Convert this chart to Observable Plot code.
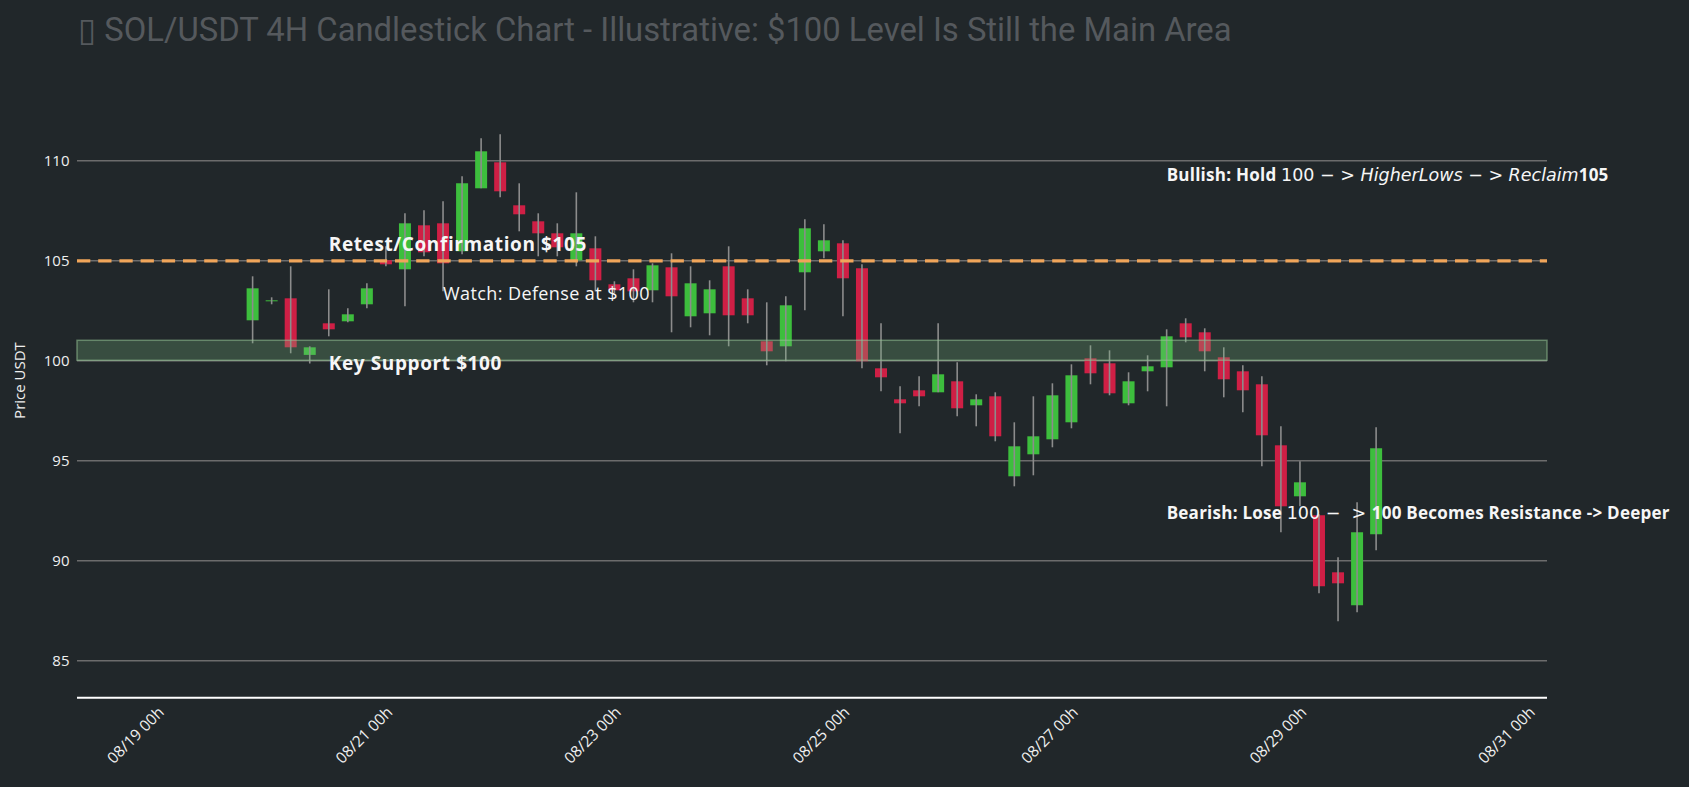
<!DOCTYPE html>
<html>
<head>
<meta charset="utf-8">
<script src="https://cdn.jsdelivr.net/npm/d3@7"></script>
<script src="https://cdn.jsdelivr.net/npm/@observablehq/plot@0.6"></script>
<style>
  html, body { margin: 0; padding: 0; background: #21272a; }
  #wrap { position: relative; width: 1689px; height: 787px; overflow: hidden; background: #21272a; }
  #title { position: absolute; left: 78px; top: 11px; font-family: Roboto, "Noto Sans", sans-serif; font-size: 32.8px; color: #55595d; white-space: nowrap; }
  #title .box { font-family: "DejaVu Sans", sans-serif; }
  #chart { position: absolute; left: 0; top: 0; }
</style>
</head>
<body>
<div id="wrap">
  <div id="chart"></div>
  <div id="title"><span class="box">▯</span> SOL/USDT 4H Candlestick Chart - Illustrative: $100 Level Is Still the Main Area</div>
</div>
<script>
// ---- data (4H candles, first candle 08/19 16:00) ----
const firstCandle = "2025-08-19T16:00:00Z";
const open  = [102.0,102.95,103.1,100.27,101.85,101.95,102.8,105.0,104.55,106.75,106.85,105.45,108.6,109.9,107.75,106.95,106.35,105.0,105.6,103.8,104.1,103.5,104.65,102.2,102.35,104.7,103.1,100.95,100.7,104.4,105.45,105.85,104.6,99.6,98.05,98.5,98.4,98.95,97.75,98.2,94.2,95.3,96.05,96.9,100.1,99.85,97.85,99.45,99.65,101.85,101.4,100.15,99.45,98.8,95.75,93.2,92.25,89.4,87.75,91.3];
const high  = [104.2,103.15,104.7,100.7,103.55,102.6,103.85,105.7,107.35,107.5,107.95,109.2,111.1,111.3,108.85,107.35,106.85,108.4,106.2,103.95,104.55,104.85,105.35,104.7,104.0,105.7,103.55,102.9,103.2,107.05,106.8,106.0,104.8,101.85,98.7,99.2,101.85,99.9,98.3,98.4,96.9,98.2,98.85,99.8,100.75,100.5,99.4,100.25,101.55,102.1,101.6,100.65,99.75,99.2,96.7,94.95,92.3,90.15,92.9,96.65];
const low   = [100.85,102.8,100.35,99.84,101.2,101.9,102.6,104.7,102.7,105.2,103.45,105.3,108.6,108.15,106.45,105.2,105.2,104.7,103.45,103.35,102.9,102.9,101.4,101.65,101.25,100.7,101.85,99.75,99.95,102.5,105.1,102.2,99.6,98.45,96.35,97.7,98.4,97.2,96.7,95.95,93.7,94.25,95.65,96.6,98.8,98.25,97.75,98.45,97.7,100.9,99.45,98.15,97.4,94.7,91.4,92.7,88.35,86.95,87.4,90.5];
const close = [103.6,103.0,100.65,100.65,101.55,102.3,103.6,104.8,106.85,105.4,104.85,108.85,110.45,108.45,107.3,106.35,105.65,106.35,104.0,103.5,103.45,104.75,103.2,103.85,103.55,102.25,102.25,100.45,102.75,106.6,106.0,104.1,99.95,99.15,97.85,98.2,99.3,97.6,98.05,96.2,95.7,96.2,98.25,99.25,99.35,98.35,98.95,99.7,101.2,101.15,100.45,99.05,98.5,96.25,92.7,93.9,88.7,88.85,91.4,95.6];

const yTicks = [85, 90, 95, 100, 105, 110];
const xTicks = ["2025-08-19","2025-08-21","2025-08-23","2025-08-25","2025-08-27","2025-08-29","2025-08-31"];
const xDomain = ["2025-08-18T03:13:00Z", "2025-08-31T00:00:00Z"];
const yDomain = [83.15, 114.88];

const supportLow = 100, supportHigh = 101;
const resistance = 105;

// annotations
const annText = ["Retest/Confirmation $105", "Key Support $100", "Watch: Defense at $100"];
const annTime = ["2025-08-20T08:00:00Z", "2025-08-20T08:00:00Z", "2025-08-21T08:00:00Z"];
const annPrice = [105.8, 99.86, 103.32];
const annBold = [true, true, false];

const scenarioText = ["Bullish: Hold 100 − > HigherLows − > Reclaim105", "Bearish: Lose 100 −  > 100 Becomes Resistance -> Deeper"];
const scenarioTime = ["2025-08-27T16:00:00Z", "2025-08-27T16:00:00Z"];
const scenarioPrice = [109.27, 92.36];
const scenarioParts = [
  [["Bullish: Hold ", "b"], ["100 − > ", "m"], ["HigherLows", "i"], [" − > ", "m"], ["Reclaim", "i"], ["105", "b"]],
  [["Bearish: Lose ", "b"], ["100 −  > ", "m"], ["100 Becomes Resistance -> Deeper", "b"]]
];

// ---- build ----
const times = d3.utcHour.every(4).range(new Date(firstCandle), d3.utcHour.offset(new Date(firstCandle), 4 * open.length));
const candles = open.map((o, i) => ({t: times[i], o, h: high[i], l: low[i], c: close[i]}));
const up = candles.filter(d => d.c >= d.o);
const down = candles.filter(d => d.c < d.o);
const ann = annText.map((s, i) => ({s, t: new Date(annTime[i]), p: annPrice[i], b: annBold[i]}));
const scen = scenarioText.map((s, i) => ({s, t: new Date(scenarioTime[i]), p: scenarioPrice[i]}));
const xd = xDomain.map(s => new Date(s));
const FONT = "'Open Sans', 'Noto Sans', sans-serif";

const chart = Plot.plot({
  width: 1689,
  height: 787,
  marginLeft: 77,
  marginRight: 142,
  marginTop: 62.7,
  marginBottom: 89.7,
  style: {background: "transparent", color: "#efefef", fontFamily: FONT, fontSize: "15px", overflow: "visible"},
  x: {type: "utc", domain: xd},
  y: {domain: yDomain},
  marks: [
    Plot.ruleY(yTicks, {stroke: "#6c6c6c", strokeWidth: 1.5}),
    Plot.axisY(yTicks, {tickSize: 0, tickPadding: 8, fontSize: 15, label: "Price USDT", labelAnchor: "center", labelArrow: "none", labelOffset: 63, fill: "#efefef"}),
    Plot.axisX(xTicks.map(s => new Date(s + "T00:00:00Z")), {tickSize: 0, tickPadding: 10, tickRotate: -45, tickFormat: d3.utcFormat("%m/%d %Hh"), fontSize: 15.5, label: null, dx: -15, dy: 2, fill: "#efefef"}),
    Plot.ruleY([yDomain[0]], {stroke: "#ffffff", strokeWidth: 2}),
    Plot.ruleX(up, {x: "t", y1: "o", y2: "c", stroke: "#3dbe3d", strokeWidth: 12}),
    Plot.ruleX(down, {x: "t", y1: "o", y2: "c", stroke: "#cf1f45", strokeWidth: 12}),
    Plot.ruleX(candles, {x: "t", y1: "l", y2: "h", stroke: "#8c8c8c", strokeWidth: 1.6}),
    Plot.rect([{x1: xd[0], x2: xd[1], y1: supportLow, y2: supportHigh}], {x1: "x1", x2: "x2", y1: "y1", y2: "y2", fill: "#78b47e", fillOpacity: 0.27, stroke: "#93c193", strokeOpacity: 0.55, strokeWidth: 1.5}),
    Plot.ruleY([resistance], {stroke: "#f0a55a", strokeWidth: 3.3, strokeDasharray: "13.3,7.9"}),
    Plot.text(ann.filter(d => d.b), {x: "t", y: "p", text: "s", textAnchor: "start", fill: "#f6f6f6", fontWeight: "bold", fontSize: 19}),
    Plot.text(ann.filter(d => !d.b), {x: "t", y: "p", text: "s", textAnchor: "start", fill: "#f6f6f6", fontWeight: "normal", fontSize: 18}),
    Plot.text(scen, {x: "t", y: "p", text: "s", textAnchor: "start", fill: "#f6f6f6", fontWeight: "bold", fontSize: 17})
  ]
});

const svg = d3.select(chart);
// wider letter spacing to match the geometric annotation face
svg.selectAll("text").each(function () {
  const i = annText.indexOf(this.textContent);
  if (i >= 0) d3.select(this).attr("letter-spacing", annBold[i] ? 0.6 : 0.4);
});
// render the LaTeX-like pieces of the scenario notes as mixed-style tspans
svg.selectAll("text").each(function () {
  const idx = scenarioText.indexOf(this.textContent);
  if (idx < 0) return;
  const el = d3.select(this).style("white-space", "pre").text(null);
  for (const [s, k] of scenarioParts[idx]) {
    const ts = el.append("tspan").text(s);
    if (k === "b") ts.attr("font-weight", "bold").attr("font-size", 17).attr("letter-spacing", 0.25);
    else ts.attr("font-weight", "normal").attr("font-family", "'DejaVu Sans', sans-serif").attr("font-size", 17.5)
          .attr("font-style", k === "i" ? "italic" : "normal");
  }
});

document.getElementById("chart").appendChild(chart);
</script>
</body>
</html>
